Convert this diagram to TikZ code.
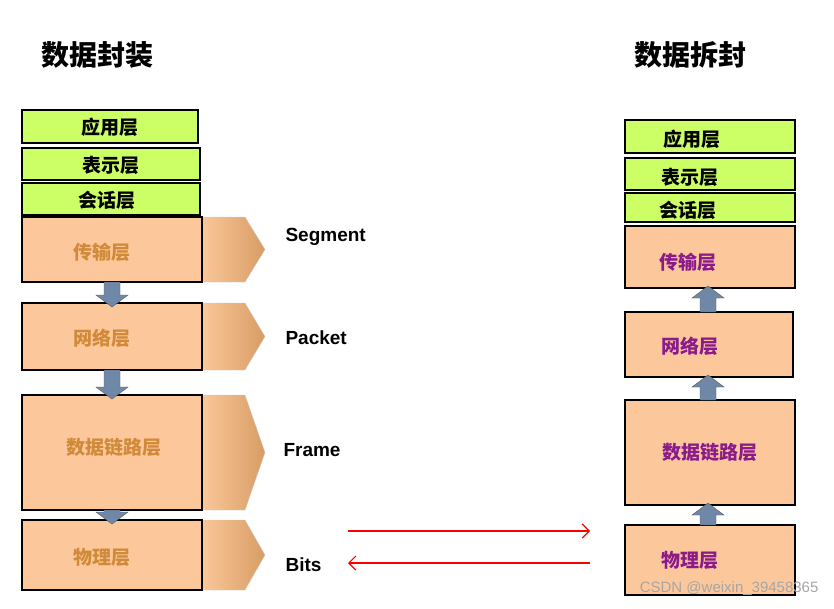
\documentclass[tikz,border=0pt]{standalone}
\usepackage{fontspec}
\setmainfont{Liberation Sans}
\newfontfamily\cjk{Noto Sans CJK SC}
\usetikzlibrary{arrows.meta}
\definecolor{lgreen}{HTML}{CCFF66}
\definecolor{peach}{HTML}{FCC89B}
\definecolor{ltxt}{HTML}{D08A3A}
\definecolor{rtxt}{HTML}{8B1A8B}
\definecolor{arrowblue}{HTML}{7088A8}
\begin{document}
\begin{tikzpicture}[x=1pt,y=-1pt,
 lay/.style={draw=black,line width=2.5pt},
 gl/.style={lay,fill=lgreen},
 pl/.style={lay,fill=peach},
 lt/.style={font=\cjk\bfseries\fontsize{19}{19}\selectfont},
 tab/.style={left color=peach,right color=brown!60!peach,draw=gray!40},
 lab/.style={font=\bfseries\fontsize{19}{19}\selectfont,anchor=west},
 dn/.style={fill=arrowblue,draw=gray!70!black},
 red/.style={draw=red,line width=1.2pt,-{Straight Barb[length=7pt]}}]
\useasboundingbox (0,0) rectangle (834,608);
\node[font=\cjk\bfseries\fontsize{28}{28}\selectfont] (t1) at (97,55) {数据封装};
\node[font=\cjk\bfseries\fontsize{28}{28}\selectfont] (t2) at (690,55) {数据拆封};
% left tabs
\foreach \a/\b in {217/282,303/370,395/510,520/590}{
 \path[tab] (200,\a) -- (245,\a) -- (265,{(\a+\b)/2}) -- (245,\b) -- (200,\b) -- cycle;}
% left stack
\draw[gl] (22,110) rectangle (198,143); \node[lt] (la) at (110,127) {应用层};
\draw[gl] (22,148) rectangle (200,180); \node[lt] (lb) at (111,165) {表示层};
\draw[gl] (22,183) rectangle (200,215); \node[lt] (lc) at (107,200) {会话层};
\draw[pl] (22,217) rectangle (202,282); \node[lt,ltxt] (ld) at (102,252) {传输层};
\draw[pl] (22,303) rectangle (202,370); \node[lt,ltxt] (le) at (102,338) {网络层};
\draw[pl] (22,395) rectangle (202,510); \node[lt,ltxt] (lf) at (114,447) {数据链路层};
\draw[pl] (22,520) rectangle (202,590); \node[lt,ltxt] (lg) at (102,557) {物理层};
\foreach \a/\b in {282/305,370/397,510/522}{
 \path[dn] (104,\a) -- (120,\a) -- (120,{\b-10}) -- (128,{\b-10}) -- (112,\b+2) -- (96,{\b-10}) -- (104,{\b-10}) -- cycle;}
\node[lab] (s1) at (282,237) {Segment};
\node[lab] (s2) at (282,338) {Packet};
\node[lab] (s3) at (280,450) {Frame};
\node[lab] (s4) at (282,565) {Bits};
% right stack
\draw[gl] (625,120) rectangle (795,153); \node[lt] (ra) at (692,139) {应用层};
\draw[gl] (625,158) rectangle (795,190); \node[lt] (rb) at (690,177) {表示层};
\draw[gl] (625,193) rectangle (795,222); \node[lt] (rc) at (688,210) {会话层};
\draw[pl] (625,226) rectangle (795,288); \node[lt,rtxt] (rd) at (688,262) {传输层};
\draw[pl] (625,312) rectangle (793,377); \node[lt,rtxt] (re) at (690,346) {网络层};
\draw[pl] (625,400) rectangle (795,505); \node[lt,rtxt] (rf) at (710,452) {数据链路层};
\draw[pl] (625,525) rectangle (795,595); \node[lt,rtxt] (rg) at (690,560) {物理层};
\foreach \a/\b in {288/312,377/400,505/525}{
 \path[dn] (700,\b) -- (716,\b) -- (716,{\a+10}) -- (724,{\a+10}) -- (708,\a-2) -- (692,{\a+10}) -- (700,{\a+10}) -- cycle;}
\coordinate (p1) at (348,531); \coordinate (p2) at (590,531);
\coordinate (p3) at (590,563); \coordinate (p4) at (348,563);
\draw[red] (p1) -- (p2);
\draw[red] (p3) -- (p4);
\node[font=\fontsize{15}{15}\selectfont,text=gray!70,anchor=east] (wm) at (822,589) {CSDN @weixin\_39458365};
\end{tikzpicture}
\end{document}
